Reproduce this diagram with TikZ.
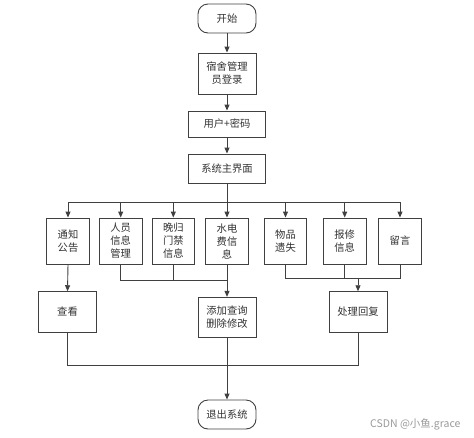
\documentclass[tikz,border=0pt]{standalone}
\usepackage{fontspec}
\setmainfont{Noto Sans CJK SC}
\newfontfamily\cjk{Noto Sans CJK SC}
\usetikzlibrary{arrows.meta}
\definecolor{ln}{HTML}{404040}
\definecolor{tx}{HTML}{333333}
\tikzset{
  box/.style={draw=ln, line width=0.9pt, fill=white, inner sep=1pt, align=center,
    text=tx, font=\cjk\fontsize{10.3}{13}\selectfont},
  term/.style={box, rounded corners=10pt},
  conn/.style={draw=ln, line width=0.9pt},
  arr/.style={conn, -{Triangle[length=6pt,width=5pt]}},
}
\begin{document}
\begin{tikzpicture}[x=1pt,y=-1pt]
\useasboundingbox (0,0) rectangle (474,437);
\node[term, minimum width=58pt, minimum height=29pt] (start) at (227,18.5) {开始};
\node[box, minimum width=58pt, minimum height=41pt] (login) at (227,73.5) {宿舍管理\\员登录};
\node[box, minimum width=77pt, minimum height=26pt] (pw) at (227,124) {用户+密码};
\node[box, minimum width=77pt, minimum height=29pt] (main) at (227,168.5) {系统主界面};

\tikzset{rowbox/.style={box, minimum width=42.5pt, minimum height=46pt}}
\node[rowbox] (b1) at (68,241) {通知\\公告};
\node[rowbox] (b2) at (120.7,241) {人员\\信息\\管理};
\node[rowbox] (b3) at (173.3,241) {晚归\\门禁\\信息};
\node[rowbox] (b4) at (227,241) {水电\\费信\\息};
\node[rowbox] (b5) at (285.5,241) {物品\\遗失};
\node[rowbox] (b6) at (344.7,241) {报修\\信息};
\node[rowbox] (b7) at (400,241) {留言};

\node[box, minimum width=58pt, minimum height=40.6pt] (view) at (67.5,312) {查看};
\node[box, minimum width=58pt, minimum height=40pt] (add) at (227,317.3) {添加查询\\删除修改};
\node[box, minimum width=58pt, minimum height=40.6pt] (reply) at (358,312) {处理回复};
\node[term, minimum width=58pt, minimum height=29pt] (exit) at (227,414.5) {退出系统};

\coordinate (bus) at (227,202);
\coordinate (busL) at (227,280);
\coordinate (busR) at (358,278.5);
\coordinate (busB) at (227,365.5);

\draw[arr] (start) -- (login);
\draw[arr] (login) -- (pw);
\draw[arr] (pw) -- (main);
\draw[conn] (main.south) -- (bus);
\draw[conn] (b1.north |- bus) -- (b7.north |- bus);
\foreach \b in {b1,b2,b3,b4,b5,b6,b7} \draw[arr] (\b.north |- bus) -- (\b.north);

\draw[conn] (b2.south) |- (busL);
\draw[conn] (b3.south) -- (b3.south |- busL);
\draw[arr] (b4.south) -- (add.north);

\draw[conn] (b5.south) |- (b7.south |- busR) -- (b7.south);
\draw[conn] (b6.south) -- (b6.south |- busR);
\draw[arr] (busR) -- (reply.north);

\draw[arr] (b1.south) -- (view.north);

\draw[conn] (view.south) |- (reply.south |- busB) -- (reply.south);
\draw[arr] (add.south) -- (exit.north);

\node[anchor=west, text=black!40, font=\cjk\fontsize{10.5}{12}\selectfont, inner sep=0pt] (wm) at (370,424) {CSDN @小鱼.grace};
\end{tikzpicture}
\end{document}
